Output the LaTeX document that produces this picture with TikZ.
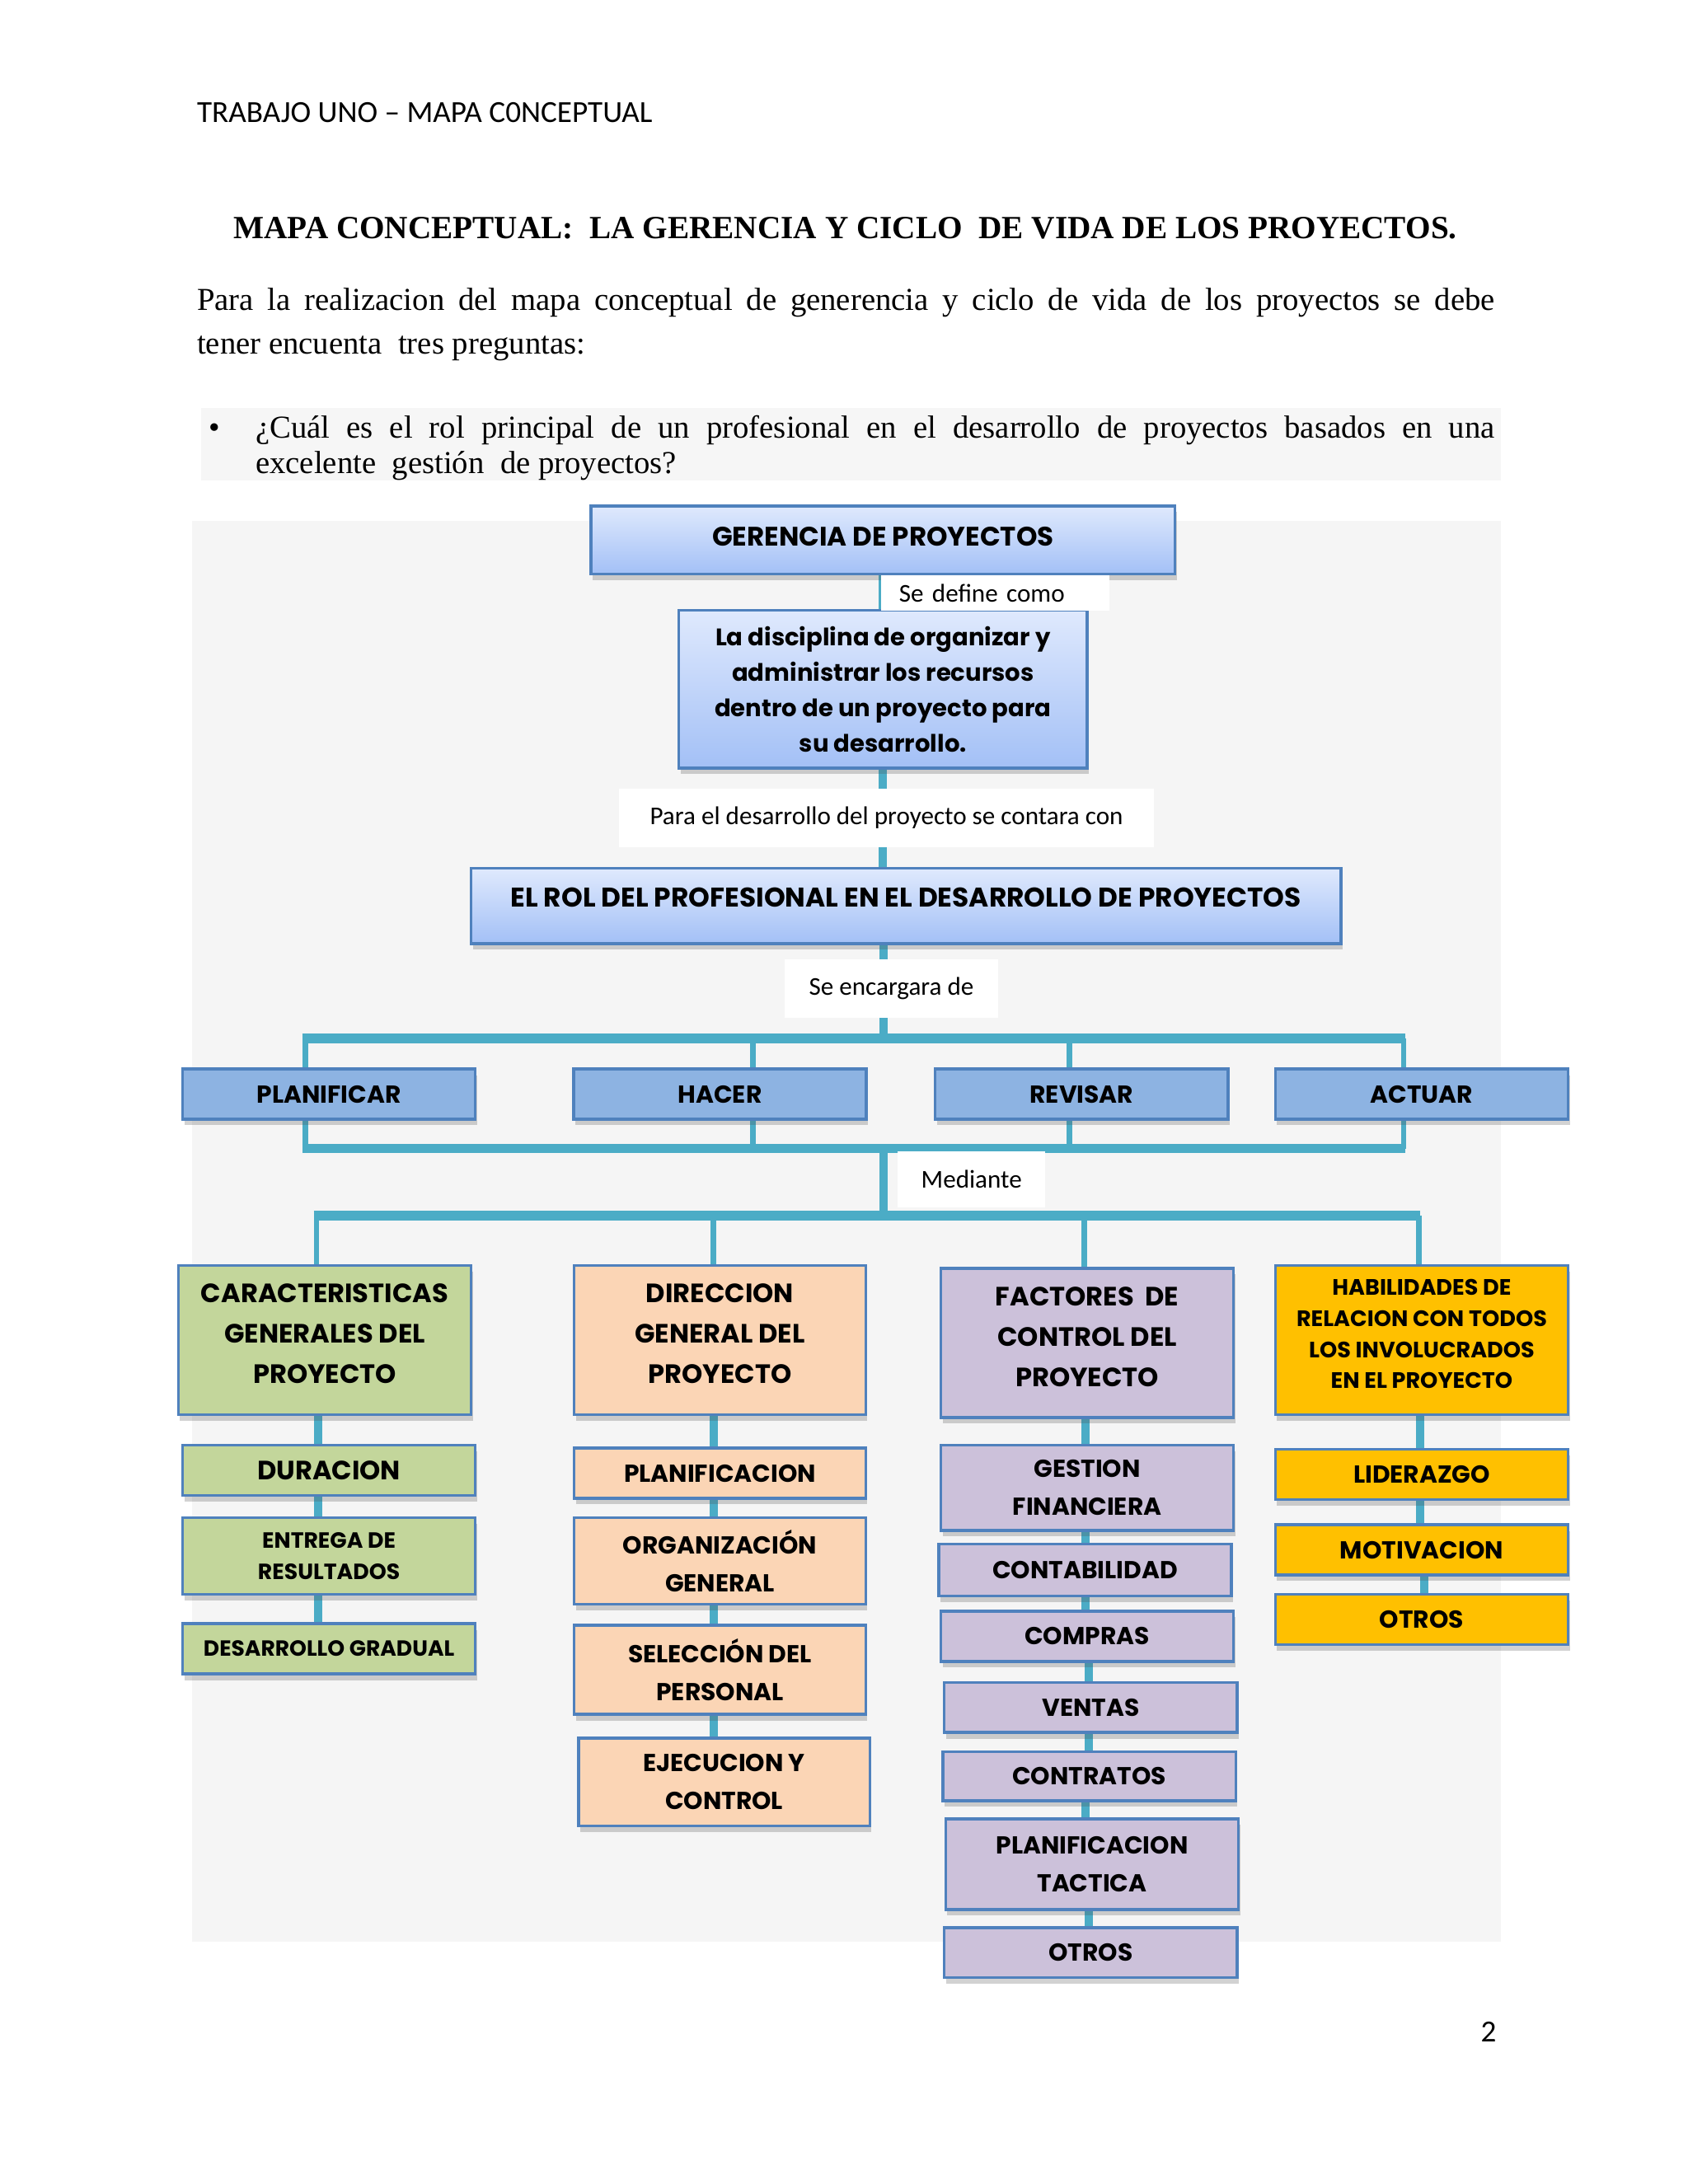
\documentclass[tikz,border=0pt]{standalone}
\usepackage{fontspec}
\setmainfont{Liberation Serif}
\newfontfamily\calfont{Carlito}
\newfontfamily\gothfont{Poppins}
\usetikzlibrary{shadows,calc}
\definecolor{gtop}{HTML}{DFE9FD}
\definecolor{gbot}{HTML}{A3C0F6}
\definecolor{bordc}{HTML}{4F81BD}
\definecolor{tealc}{HTML}{4BACC6}
\definecolor{pdcac}{HTML}{8DB3E2}
\definecolor{greenc}{HTML}{C3D69B}
\definecolor{peachc}{HTML}{FBD5B5}
\definecolor{lavc}{HTML}{CCC1DA}
\definecolor{goldc}{HTML}{FFC000}
\definecolor{diagbg}{HTML}{F5F5F5}
\definecolor{bulbg}{HTML}{F6F6F6}
\pgfdeclarelayer{bglayer}
\pgfdeclarelayer{connlayer}
\pgfsetlayers{bglayer,connlayer,main}
\tikzset{
  boxbase/.style={draw=bordc, line width=1pt, align=center, inner sep=1pt,
    font=\gothfont\bfseries\fontsize{8.8}{13.5}\selectfont,
    drop shadow={shadow xshift=0.6pt, shadow yshift=-2.2pt, opacity=0.25, fill=black!70}},
  gbox/.style={boxbase, top color=gtop, bottom color=gbot},
  pbox/.style={boxbase, fill=pdcac, minimum width=105pt, minimum height=18pt},
  grbox/.style={boxbase, fill=greenc, minimum width=105pt},
  pebox/.style={boxbase, fill=peachc, minimum width=104.5pt},
  lvbox/.style={boxbase, fill=lavc, minimum width=105pt},
  gdbox/.style={boxbase, fill=goldc, minimum width=105pt},
  catfont/.style={font=\gothfont\bfseries\fontsize{9.5}{14.5}\selectfont, text depth=4.5pt},
  conn/.style={draw=tealc, line width=3pt},
  barln/.style={draw=tealc, line width=3.5pt},
  tickln/.style={draw=tealc, line width=2pt},
  lbl/.style={fill=white, inner sep=0pt, font=\calfont\fontsize{9.2}{11}\selectfont},
  bodytxt/.style={anchor=base west, inner sep=0pt, font=\fontsize{11.45}{14}\selectfont},
}
\begin{document}
\begin{tikzpicture}[x=0.5pt,y=-0.5pt]
\useasboundingbox (0,0) rectangle (1211,1567);
\begin{pgfonlayer}{bglayer}
\fill[white] (0,0) rectangle (1211,1567);
\fill[diagbg] (138,374) rectangle (1077,1393);
\fill[bulbg] (144,293) rectangle (1077,345);
\end{pgfonlayer}
% page texts
\node[anchor=base west, inner sep=0pt, font=\calfont\fontsize{11}{13}\selectfont] (hdr) at (141,88) {TRABAJO UNO – MAPA C0NCEPTUAL};
\node[anchor=base, inner sep=0pt, font=\bfseries\fontsize{11.6}{14}\selectfont] (title) at (606.5,171) {MAPA CONCEPTUAL:\ \ LA GERENCIA Y CICLO\ \ DE VIDA DE LOS PROYECTOS.};
\node[bodytxt] (p1) at (141,222.5) {\makebox[465.5pt][s]{Para la realizacion del mapa conceptual de generencia y ciclo de vida de los proyectos se debe}};
\node[bodytxt] (p2) at (141,254) {tener encuenta\ \ tres preguntas:};
\node[bodytxt] (bul) at (149.5,314.5) {\textbullet};
\node[bodytxt] (q1) at (183,314.5) {\makebox[444.5pt][s]{¿Cuál es el rol principal de un profesional en el desarrollo de proyectos basados en una}};
\node[bodytxt] (q2) at (183,340) {excelente\ \ gestión\ \ de proyectos?};
\node[anchor=base, inner sep=0pt, font=\calfont\fontsize{11}{13}\selectfont] (pg) at (1068,1465) {2};

% top boxes
\node[gbox, minimum width=209.5pt, minimum height=24.5pt, font=\gothfont\bfseries\fontsize{9.6}{11}\selectfont, text depth=2.5pt] (gp) at (633.5,387.5) {GERENCIA DE PROYECTOS};
\node[gbox, minimum width=146.5pt, minimum height=56.5pt, font=\gothfont\bfseries\fontsize{8.6}{12.7}\selectfont] (def) at (633.5,494.5) {La disciplina de organizar y\\administrar los recursos\\dentro de un proyecto para\\su desarrollo.};
\node[gbox, minimum width=312pt, minimum height=27pt, font=\gothfont\bfseries\fontsize{9.7}{11}\selectfont, text depth=6pt] (rol) at (650,650) {EL ROL DEL PROFESIONAL EN EL DESARROLLO DE PROYECTOS};

% labels
\node[lbl, text width=69pt, inner xsep=6.5pt, align=left, minimum height=12.5pt] (l1) at (714,425.5) {Se define como};
\node[lbl, minimum width=192pt, minimum height=21pt] (l2) at (636,587) {Para el desarrollo del proyecto se contara con};
\node[lbl, minimum width=76.5pt, minimum height=21pt] (l3) at (639.5,709) {Se encargara de};
\node[lbl, minimum width=53pt, minimum height=20pt] (l4) at (697,846) {Mediante};

% PDCA
\node[pbox] (pl) at (236,785) {PLANIFICAR};
\node[pbox] (ha) at (516.5,785) {HACER};
\node[pbox] (re) at (776,785) {REVISAR};
\node[pbox] (ac) at (1020,785) {ACTUAR};

% categories
\node[grbox, minimum height=53.5pt, catfont] (ca) at (233,961.5) {CARACTERISTICAS\\GENERALES DEL\\PROYECTO};
\node[pebox, minimum height=53.5pt, catfont] (cb) at (516.5,961.5) {DIRECCION\\GENERAL DEL\\PROYECTO};
\node[lvbox, minimum height=53.5pt, catfont] (cc) at (780,963.5) {FACTORES\ \ DE\\CONTROL DEL\\PROYECTO};
\node[gdbox, minimum height=53.5pt, font=\gothfont\bfseries\fontsize{8}{11.2}\selectfont, text depth=4.5pt] (cd) at (1020,961.5) {HABILIDADES DE\\RELACION CON TODOS\\LOS INVOLUCRADOS\\EN EL PROYECTO};

% column A
\node[grbox, minimum height=18pt, font=\gothfont\bfseries\fontsize{9.5}{11}\selectfont] (a1) at (236,1055) {DURACION};
\node[grbox, minimum height=27.5pt, font=\gothfont\bfseries\fontsize{7.9}{11}\selectfont] (a2) at (236,1116.5) {ENTREGA DE\\RESULTADOS};
\node[grbox, minimum height=18pt, font=\gothfont\bfseries\fontsize{7.85}{11}\selectfont] (a3) at (236,1183) {DESARROLLO GRADUAL};

% column B
\node[pebox, minimum height=18pt] (b1) at (516.5,1057) {PLANIFICACION};
\node[pebox, minimum height=31pt] (b2) at (516.5,1120) {ORGANIZACIÓN\\GENERAL};
\node[pebox, minimum height=32pt] (b3) at (516.5,1198) {SELECCIÓN DEL\\PERSONAL};
\node[pebox, minimum height=31.5pt] (b4) at (519.5,1278.5) {EJECUCION Y\\CONTROL};

% column C
\node[lvbox, minimum height=30.5pt] (c1) at (780,1067.5) {GESTION\\FINANCIERA};
\node[lvbox, minimum height=18.5pt] (c2) at (778.5,1126.5) {CONTABILIDAD};
\node[lvbox, minimum height=18pt] (c3) at (780,1174) {COMPRAS};
\node[lvbox, minimum height=18pt] (c4) at (782.5,1225) {VENTAS};
\node[lvbox, minimum height=17.5pt] (c5) at (781.5,1274.5) {CONTRATOS};
\node[lvbox, minimum height=32.5pt] (c6) at (783.5,1337.5) {PLANIFICACION\\TACTICA};
\node[lvbox, minimum height=18pt] (c7) at (782.5,1401) {OTROS};

% column D
\node[gdbox, minimum height=18pt] (d1) at (1020,1058) {LIDERAZGO};
\node[gdbox, minimum height=18pt] (d2) at (1020,1112) {MOTIVACION};
\node[gdbox, minimum height=18pt] (d3) at (1020,1162) {OTROS};

% connectors
\begin{pgfonlayer}{connlayer}
\coordinate (j1) at (634,745);
\coordinate (j2) at (634,824);
\coordinate (j3) at (634,872);
\draw[conn] (gp.south) -- (def.north);
\draw[conn] (def.south) -- (def.south |- rol.north);
\draw[conn] (rol.south -| j1) -- (j1);
\draw[barln] (217,745) -- (1008,745);
\foreach \xx/\nn in {219/pl, 540/ha, 767/re, 1007/ac}{
  \coordinate (t\nn) at (\xx,745);
  \coordinate (u\nn) at (\xx,824);
  \draw[tickln] (t\nn) -- (t\nn |- \nn.north);
  \draw[tickln] (u\nn |- \nn.south) -- (u\nn);
}
\draw[barln] (217,824) -- (1008,824);
\draw[conn] (j2) -- (j3);
\draw[barln] (225,872) -- (1019,872);
\foreach \xx/\nn in {227/ca, 512/cb, 778/cc, 1018/cd}{
  \coordinate (v\nn) at (\xx,872);
  \draw[tickln] (v\nn) -- (v\nn |- \nn.north);
}
\draw[conn] (ca.south -| 228,0) -- (a1.north -| 228,0);
\draw[conn] (a1.south -| 228,0) -- (a2.north -| 228,0);
\draw[conn] (a2.south -| 228,0) -- (a3.north -| 228,0);
\draw[conn] (cb.south -| 512,0) -- (b1.north -| 512,0);
\draw[conn] (b1.south -| 512,0) -- (b2.north -| 512,0);
\draw[conn] (b2.south -| 512,0) -- (b3.north -| 512,0);
\draw[conn] (b3.south -| 512,0) -- (b4.north -| 512,0);
\draw[conn] (cc.south -| 779,0) -- (c1.north -| 779,0);
\draw[conn] (c1.south -| 779,0) -- (c2.north -| 779,0);
\draw[conn] (c2.south -| 779,0) -- (c3.north -| 779,0);
\draw[conn] (c3.south -| 781,0) -- (c4.north -| 781,0);
\draw[conn] (c4.south -| 781,0) -- (c5.north -| 781,0);
\draw[conn] (c5.south -| 779,0) -- (c6.north -| 779,0);
\draw[conn] (c6.south -| 781,0) -- (c7.north -| 781,0);
\draw[conn] (cd.south -| 1019,0) -- (d1.north -| 1019,0);
\draw[conn] (d1.south -| 1019,0) -- (d2.north -| 1019,0);
\draw[conn] (d2.south -| 1022,0) -- (d3.north -| 1022,0);
\end{pgfonlayer}
\end{tikzpicture}
\end{document}
